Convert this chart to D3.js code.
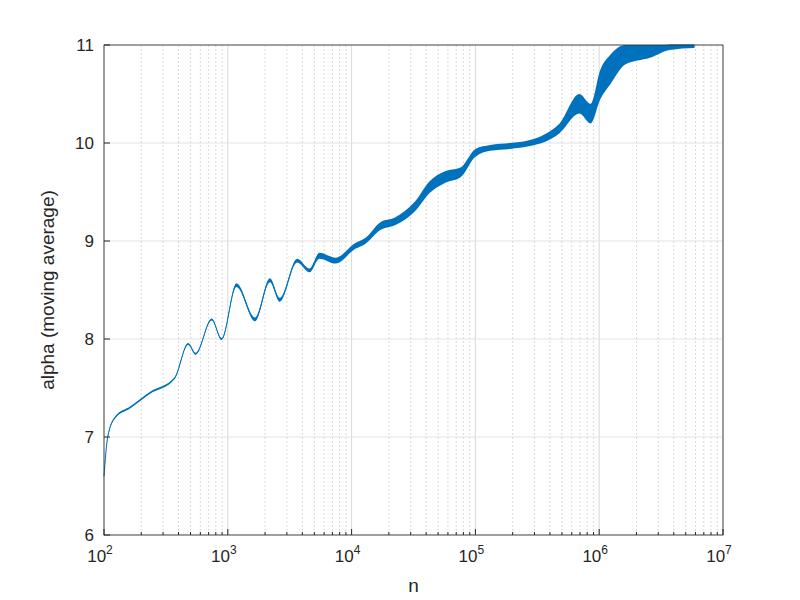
<!DOCTYPE html>
<html><head><meta charset="utf-8">
<script src="https://cdn.jsdelivr.net/npm/d3@7"></script>
<style>body{margin:0;background:#fff}text{font-family:"Liberation Sans",Arial,sans-serif}</style>
</head><body><div id="chart"></div>
<script>
var nExp = [2.00,2.03,2.09,2.21,2.37,2.57,2.68,2.74,2.87,2.95,3.07,3.22,3.34,3.42,3.56,3.66,3.74,3.87,4.03,4.11,4.23,4.35,4.51,4.63,4.75,4.88,5.00,5.12,5.28,5.44,5.56,5.68,5.84,5.93,6.01,6.09,6.21,6.41,6.57,6.77]
var alphaMid = [6.6,7.0,7.2,7.3,7.45,7.6,7.95,7.85,8.2,8.0,8.55,8.2,8.6,8.4,8.8,8.7,8.85,8.8,8.95,9.0,9.15,9.2,9.35,9.55,9.65,9.7,9.9,9.95,9.97,10.0,10.05,10.15,10.4,10.3,10.6,10.75,10.9,10.95,11.0,11.0]
var alphaSpread = [0.01,0.01,0.01,0.01,0.01,0.01,0.01,0.01,0.01,0.01,0.02,0.02,0.02,0.02,0.02,0.02,0.03,0.03,0.03,0.03,0.04,0.04,0.05,0.06,0.06,0.05,0.04,0.03,0.03,0.03,0.04,0.05,0.1,0.1,0.15,0.15,0.1,0.08,0.05,0.03]
var yTicks = [6,7,8,9,10,11]
var xExps = [2,3,4,5,6,7]

var W = 800, H = 600, L = 104, R = 723, T = 45, B = 535
var svg = d3.select('#chart').append('svg').attr('width', W).attr('height', H)
var x = d3.scaleLog().domain([1e2, 1e7]).range([L, R])
var y = d3.scaleLinear().domain([6, 11]).range([B, T])

var pts = nExp.map(function(e, i) { return {n: Math.pow(10, e), a: alphaMid[i], s: alphaSpread[i]} })

// grid
var minor = []
for (var e = 2; e < 7; e++) for (var k = 1; k < 10; k++) minor.push(k * Math.pow(10, e))
minor.push(1e7)
svg.selectAll('.gx').data(minor).enter().append('line')
   .attr('x1', function(d) { return x(d) }).attr('x2', function(d) { return x(d) })
   .attr('y1', T).attr('y2', B)
   .attr('stroke', '#d9d9d9').attr('stroke-dasharray', function(d) {
     return Math.abs(Math.log10(d) % 1) < 1e-9 ? null : '2,2' })
svg.selectAll('.gy').data(yTicks).enter().append('line')
   .attr('x1', L).attr('x2', R).attr('y1', function(d) { return y(d) }).attr('y2', function(d) { return y(d) })
   .attr('stroke', '#e3e3e3')

// data
svg.append('path').datum(pts)
   .attr('d', d3.area().x(function(d) { return x(d.n) })
     .y0(function(d) { return y(Math.min(11, d.a + d.s)) })
     .y1(function(d) { return y(d.a - d.s) }).curve(d3.curveMonotoneX))
   .attr('fill', '#0072BD')
svg.append('path').datum(pts)
   .attr('d', d3.line().x(function(d) { return x(d.n) }).y(function(d) { return y(d.a) }).curve(d3.curveMonotoneX))
   .attr('fill', 'none').attr('stroke', '#0072BD').attr('stroke-width', 1)

// box
svg.append('rect').attr('x', L).attr('y', T).attr('width', R - L).attr('height', B - T)
   .attr('fill', 'none').attr('stroke', '#262626').attr('stroke-width', 0.8)

// ticks
svg.selectAll('.ty').data(yTicks).enter().append('text')
   .attr('x', L - 10).attr('y', function(d) { return y(d) + 6 })
   .attr('text-anchor', 'end').attr('font-size', 17).attr('fill', '#262626').text(function(d) { return d })
svg.selectAll('.tyl').data(yTicks).enter().append('line')
   .attr('x1', L).attr('x2', L + 6).attr('y1', function(d) { return y(d) }).attr('y2', function(d) { return y(d) })
   .attr('stroke', '#262626')
var xt = svg.selectAll('.tx').data(xExps).enter().append('text')
   .attr('x', function(d) { return x(Math.pow(10, d)) - 4 }).attr('y', B + 27)
   .attr('text-anchor', 'middle').attr('font-size', 17).attr('fill', '#262626')
xt.append('tspan').text('10')
xt.append('tspan').attr('dy', -8).attr('font-size', 12).text(function(d) { return d })
svg.selectAll('.txl').data(minor).enter().append('line')
   .attr('x1', function(d) { return x(d) }).attr('x2', function(d) { return x(d) })
   .attr('y1', B).attr('y2', function(d) { return Math.abs(Math.log10(d) % 1) < 1e-9 ? B - 6 : B - 3 })
   .attr('stroke', '#262626')

svg.append('text').attr('x', (L + R) / 2).attr('y', 592).attr('text-anchor', 'middle')
   .attr('font-size', 19).attr('fill', '#262626').text('n')
svg.append('text').attr('transform', 'translate(54,' + (T + B) / 2 + ') rotate(-90)')
   .attr('text-anchor', 'middle').attr('font-size', 19).attr('fill', '#262626').text('alpha (moving average)')
</script></body></html>
